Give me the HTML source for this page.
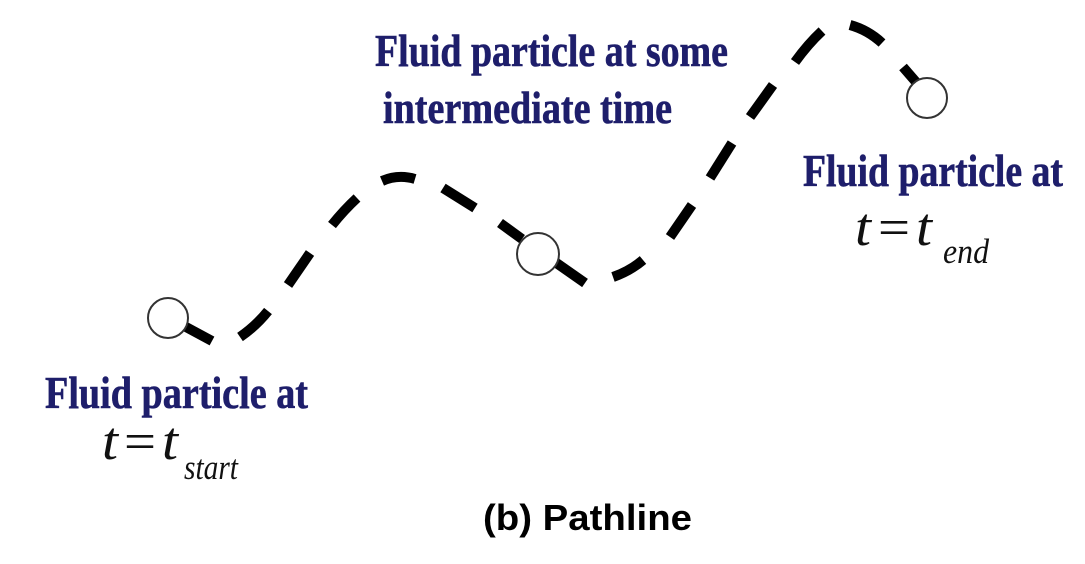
<!DOCTYPE html>
<html><head><style>html,body{margin:0;padding:0;background:#fff}svg{display:block}</style></head>
<body>
<svg width="1085" height="564" viewBox="0 0 1085 564" xmlns="http://www.w3.org/2000/svg">
<g stroke="#000" stroke-width="10" fill="none" stroke-linecap="butt">
<path d="M186 327 L212 341"/>
<path d="M240 337 Q256 326 268 311"/>
<path d="M288 285 L310 253"/>
<path d="M332 225 Q344 210 357 198"/>
<path d="M382 181 Q398 174 415 179"/>
<path d="M443 188 L475 208"/>
<path d="M500 223 L522 239"/>
<path d="M555 262 L585 283"/>
<path d="M613 277 Q630 271 643 260"/>
<path d="M670 237 L692 205"/>
<path d="M710 178 L732 143"/>
<path d="M750 117 L773 85"/>
<path d="M795 62 Q808 44 822 31"/>
<path d="M850 25 Q868 30 882 43"/>
<path d="M903 67 L916 82"/>
</g>
<g stroke="#333" stroke-width="2" fill="#fff">
<circle cx="168" cy="318" r="20"/>
<circle cx="538" cy="254" r="21"/>
<circle cx="927" cy="98" r="20"/>
</g>
<g font-family="'Liberation Serif', serif" font-weight="bold" font-size="46" fill="#1e1e6b" stroke="#1e1e6b" stroke-width="0.6">
<text x="375" y="66" textLength="353" lengthAdjust="spacingAndGlyphs">Fluid particle at some</text>
<text x="383" y="123" textLength="289" lengthAdjust="spacingAndGlyphs">intermediate time</text>
<text x="803" y="186" textLength="260" lengthAdjust="spacingAndGlyphs">Fluid particle at</text>
<text x="45" y="408" textLength="263" lengthAdjust="spacingAndGlyphs">Fluid particle at</text>
</g>
<g font-family="'Liberation Serif', serif" font-style="italic" fill="#111">
<text x="102" y="459" font-size="54" textLength="16" lengthAdjust="spacingAndGlyphs">t</text>
<text x="124" y="459" font-size="52" font-style="normal" textLength="32" lengthAdjust="spacingAndGlyphs">=</text>
<text x="162" y="459" font-size="54" textLength="16" lengthAdjust="spacingAndGlyphs">t</text>
<text x="184" y="479" font-size="35" textLength="54" lengthAdjust="spacingAndGlyphs">start</text>
<text x="855" y="245" font-size="54" textLength="16" lengthAdjust="spacingAndGlyphs">t</text>
<text x="878" y="245" font-size="52" font-style="normal" textLength="32" lengthAdjust="spacingAndGlyphs">=</text>
<text x="916" y="245" font-size="54" textLength="16" lengthAdjust="spacingAndGlyphs">t</text>
<text x="943" y="263" font-size="35" textLength="46" lengthAdjust="spacingAndGlyphs">end</text>
</g>
<text x="483" y="530" font-family="'Liberation Sans', sans-serif" font-weight="bold" font-size="36" fill="#000" textLength="209" lengthAdjust="spacingAndGlyphs">(b) Pathline</text>
</svg>
</body></html>
